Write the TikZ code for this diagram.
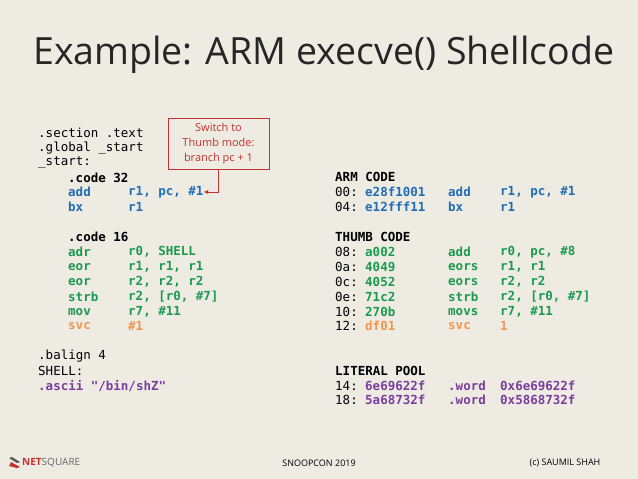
\documentclass[tikz,border=0pt]{standalone}
\usepackage{fontspec}
\setmainfont{Open Sans}
\newfontfamily\codefont{DejaVu Sans Mono}
\usetikzlibrary{arrows.meta}
\definecolor{slidebg}{HTML}{EEEBE3}
\definecolor{armblue}{HTML}{1F6DB5}
\definecolor{thgreen}{HTML}{1B9A4E}
\definecolor{svcorange}{HTML}{F0964B}
\definecolor{poolpurple}{HTML}{7A3D9E}
\definecolor{noteRed}{HTML}{C3322B}
\tikzstyle{code} = [anchor=west, inner sep=0pt, font=\codefont\fontsize{12.5}{14}\selectfont]
\tikzstyle{bcode} = [code, font=\codefont\bfseries\fontsize{12.5}{14}\selectfont]
\tikzstyle{line} = [draw, noteRed, -{Latex[length=1.6mm,width=1.4mm]}]
\tikzstyle{foot} = [inner sep=0pt, font=\fontsize{9}{10}\selectfont]
\begin{document}
\begin{tikzpicture}[x=1pt, y=-1pt]
		\fill [slidebg] (0,0) rectangle (638,479);
		\useasboundingbox (0,0) rectangle (638,479);
		\node (title) [anchor=west, inner sep=0pt, font=\fontsize{37.5}{42}\selectfont, black!85] at (33,55) {Example: ARM execve() Shellcode};
		% source listing
		\node (sec) [code] at (38,133) {.section .text};
		\node (glob) [code] at (38,148) {.global \_start};
		\node (lbl) [code] at (38,163) {\_start:};
		\node (c32) [bcode] at (68,178) {.code 32};
		\node (addA) [bcode, armblue] at (68,192) {add};
		\node (opA) [bcode, armblue] at (128,192) {r1, pc, \#1};
		\node (bxA) [bcode, armblue] at (68,207) {bx};
		\node (opB) [bcode, armblue] at (128,207) {r1};
		\node (c16) [bcode] at (68,237) {.code 16};
		\node (m1) [bcode, thgreen] at (68,252) {adr};
		\node (o1) [bcode, thgreen] at (128,252) {r0, SHELL};
		\node (m2) [bcode, thgreen] at (68,267) {eor};
		\node (o2) [bcode, thgreen] at (128,267) {r1, r1, r1};
		\node (m3) [bcode, thgreen] at (68,282) {eor};
		\node (o3) [bcode, thgreen] at (128,282) {r2, r2, r2};
		\node (m4) [bcode, thgreen] at (68,297) {strb};
		\node (o4) [bcode, thgreen] at (128,297) {r2, [r0, \#7]};
		\node (m5) [bcode, thgreen] at (68,312) {mov};
		\node (o5) [bcode, thgreen] at (128,312) {r7, \#11};
		\node (m6) [bcode, svcorange] at (68,326) {svc};
		\node (o6) [bcode, svcorange] at (128,326) {\#1};
		\node (bal) [code] at (38,356) {.balign 4};
		\node (shl) [code] at (38,371) {SHELL:};
		\node (asc) [bcode, poolpurple] at (38,386) {.ascii "/bin/shZ"};
		% callout
		\node (note) [draw=noteRed, text=noteRed, fill=slidebg, align=center, minimum width=101pt, minimum height=51pt, inner sep=1pt, font=\fontsize{11}{15}\selectfont] at (218.5,143.5) {Switch to\\Thumb mode:\\branch pc + 1};
		\path [line] (note.south) |- (opA.east);
		% disassembly
		\node (arm) [bcode] at (335,177) {ARM CODE};
		\node (a0) [code] at (335,192) {00:};
		\node (h0) [bcode, armblue] at (365,192) {e28f1001};
		\node (d0) [bcode, armblue] at (448,192) {add};
		\node (p0) [bcode, armblue] at (500,192) {r1, pc, \#1};
		\node (a1) [code] at (335,207) {04:};
		\node (h1) [bcode, armblue] at (365,207) {e12fff11};
		\node (d1) [bcode, armblue] at (448,207) {bx};
		\node (p1) [bcode, armblue] at (500,207) {r1};
		\node (thm) [bcode] at (335,237) {THUMB CODE};
		\foreach \y/\ad/\hx/\mn/\op [count=\i] in {252/08/a002/add/{r0, pc, \#8}, 267/0a/4049/eors/{r1, r1}, 282/0c/4052/eors/{r2, r2}, 297/0e/71c2/strb/{r2, [r0, \#7]}, 312/10/270b/movs/{r7, \#11}} {
			\node (ta\i) [code] at (335,\y) {\ad:};
			\node (th\i) [bcode, thgreen] at (365,\y) {\hx};
			\node (tm\i) [bcode, thgreen] at (448,\y) {\mn};
			\node (to\i) [bcode, thgreen] at (500,\y) {\op};
		}
		\node (a12) [code] at (335,326) {12:};
		\node (h12) [bcode, svcorange] at (365,326) {df01};
		\node (d12) [bcode, svcorange] at (448,326) {svc};
		\node (p12) [bcode, svcorange] at (500,326) {1};
		\node (lit) [bcode] at (335,371) {LITERAL POOL};
		\node (a14) [code] at (335,386) {14:};
		\node (h14) [bcode, poolpurple] at (365,386) {6e69622f};
		\node (d14) [bcode, poolpurple] at (448,386) {.word};
		\node (p14) [bcode, poolpurple] at (500,386) {0x6e69622f};
		\node (a18) [code] at (335,400) {18:};
		\node (h18) [bcode, poolpurple] at (365,400) {5a68732f};
		\node (d18) [bcode, poolpurple] at (448,400) {.word};
		\node (p18) [bcode, poolpurple] at (500,400) {0x5868732f};
		% footer
		\fill [gray!70!black] (9,458) -- (12,457) -- (20,462) -- (17,463) -- cycle;
		\fill [noteRed] (9,466) -- (11,462) -- (20,467) -- (17,468) -- cycle;
		\node (brand) [foot, anchor=west, font=\fontsize{10}{11}\selectfont] at (22,463) {\textcolor{noteRed}{\textbf{NET}}\textcolor{gray!80!black}{SQUARE}};
		\node (conf) [foot] at (319,463) {SNOOPCON 2019};
		\node (auth) [foot] at (565,463) {(c) SAUMIL SHAH};
\end{tikzpicture}
\end{document}
